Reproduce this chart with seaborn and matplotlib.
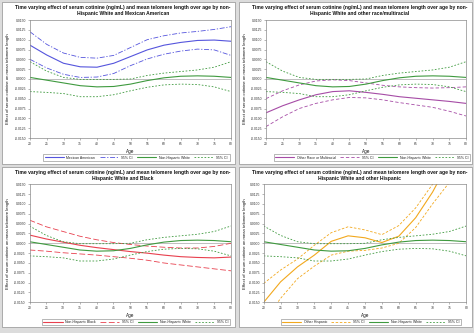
import numpy as np
import pandas as pd
import matplotlib
matplotlib.use("Agg")
import matplotlib.pyplot as plt
from matplotlib.patches import Rectangle
from matplotlib.ticker import FormatStrFormatter
import seaborn as sns

sns.set_theme(style="white")
plt.rcParams["font.family"] = ["Liberation Sans", "DejaVu Sans"]

ages = [20, 25, 30, 35, 40, 45, 50, 55, 60, 65, 70, 75, 80]

# Non-Hispanic White (reference, same in every panel)
nhw = [0.0004, -0.0003, -0.0010, -0.0017, -0.0020, -0.0019, -0.0013, -0.0004, 0.0003, 0.0007, 0.0008, 0.0007, 0.0004]
nhw_up = [0.0044, 0.0020, 0.0004, -0.0001, -0.0001, -0.0001, 0.0000, 0.0009, 0.0015, 0.0019, 0.0023, 0.0030, 0.0044]
nhw_lo = [-0.0032, -0.0034, -0.0037, -0.0045, -0.0045, -0.0040, -0.0030, -0.0021, -0.0015, -0.0013, -0.0014, -0.0020, -0.0032]

# Mexican American
ma = [0.0086, 0.0061, 0.0040, 0.0031, 0.0030, 0.0040, 0.0057, 0.0074, 0.0086, 0.0093, 0.0098, 0.0099, 0.0096]
ma_up = [0.0120, 0.0088, 0.0066, 0.0055, 0.0053, 0.0060, 0.0080, 0.0100, 0.0110, 0.0117, 0.0121, 0.0126, 0.0133]
ma_lo = [0.0050, 0.0028, 0.0012, 0.0004, 0.0005, 0.0014, 0.0034, 0.0051, 0.0063, 0.0071, 0.0076, 0.0074, 0.0060]

# Other Race or Multiracial
orm = [-0.0086, -0.0068, -0.0053, -0.0040, -0.0032, -0.0030, -0.0034, -0.0039, -0.0045, -0.0049, -0.0053, -0.0057, -0.0062]
orm_up = [-0.0050, -0.0030, -0.0015, -0.0005, -0.0002, -0.0004, -0.0010, -0.0016, -0.0020, -0.0022, -0.0023, -0.0022, -0.0020]
orm_lo = [-0.0121, -0.0096, -0.0075, -0.0062, -0.0053, -0.0047, -0.0048, -0.0053, -0.0060, -0.0066, -0.0072, -0.0082, -0.0094]

# Non-Hispanic Black
nhb = [0.0021, 0.0011, 0.0003, -0.0005, -0.0011, -0.0016, -0.0021, -0.0025, -0.0030, -0.0034, -0.0036, -0.0037, -0.0035]
nhb_up = [0.0059, 0.0042, 0.0030, 0.0018, 0.0009, 0.0002, -0.0003, -0.0007, -0.0010, -0.0012, -0.0012, -0.0008, 0.0000]
nhb_lo = [-0.0017, -0.0020, -0.0024, -0.0027, -0.0030, -0.0034, -0.0038, -0.0043, -0.0050, -0.0055, -0.0060, -0.0065, -0.0070]

# Other Hispanic
oh = [-0.0150, -0.0098, -0.0060, -0.0030, 0.0005, 0.0019, 0.0014, 0.0002, 0.0018, 0.0065, 0.0130, 0.0210, 0.0300]
oh_up = [-0.0102, -0.0068, -0.0040, -0.0005, 0.0027, 0.0042, 0.0034, 0.0022, 0.0045, 0.0090, 0.0150, 0.0230, 0.0320]
oh_lo = [-0.0200, -0.0140, -0.0090, -0.0058, -0.0030, -0.0020, -0.0018, -0.0012, 0.0000, 0.0040, 0.0100, 0.0155, 0.0240]

yticks = [-0.0150, -0.0125, -0.0100, -0.0075, -0.0050, -0.0025, 0.0, 0.0025, 0.0050, 0.0075, 0.0100, 0.0125, 0.0150]
xticks = ages

GREEN = "#3f9a3f"
GREEN_CI = "#3f9a3f"

panels = [
    dict(title="Time varying effect of serum cotinine (ng/mL) and mean telomere length over age by non-\nHispanic White and Mexican American",
         name="Mexican American", mid=ma, up=ma_up, lo=ma_lo, color="#5555dd", ls=(0, (6, 2, 1.5, 2)),
         box=(2, 2, 235, 164), ax=(30, 20, 231, 138), tx=123, ty=10.8, lx=8),
    dict(title="Time varying effect of serum cotinine (ng/mL) and mean telomere length over age by non-\nHispanic White and other race/multiracial",
         name="Other Race or Multiracial", mid=orm, up=orm_up, lo=orm_lo, color="#a64ca6", ls=(0, (4, 2.5)),
         box=(239, 2, 472, 164), ax=(266, 20, 466, 138), tx=360, ty=10.8, lx=245),
    dict(title="Time varying effect of serum cotinine (ng/mL) and mean telomere length over age by non-\nHispanic White and Black",
         name="Non-Hispanic Black", mid=nhb, up=nhb_up, lo=nhb_lo, color="#e8404e", ls=(0, (7, 3)),
         box=(2, 167, 235, 327), ax=(29.5, 184.3, 231, 302.3), tx=123, ty=175.7, lx=8),
    dict(title="Time varying effect of serum cotinine (ng/mL) and mean telomere length over age by non-\nHispanic White and other Hispanic",
         name="Other Hispanic", mid=oh, up=oh_up, lo=oh_lo, color="#f2a81d", ls=(0, (3, 2)),
         box=(239, 167, 472, 327), ax=(263.7, 184.3, 466.3, 302.3), tx=360, ty=175.7, lx=245),
]

W, H = 474, 333
fig = plt.figure(figsize=(W / 100, H / 100), dpi=100, facecolor="#dcdcdc")


def fig_rect(x0, y0, x1, y1):
    return [x0 / W, 1 - y1 / H, (x1 - x0) / W, (y1 - y0) / H]


for p in panels:
    bx = fig_rect(*p["box"])
    rect = Rectangle((bx[0], bx[1]), bx[2], bx[3], transform=fig.transFigure,
                     facecolor="white", edgecolor="#909090", lw=0.5, zorder=-5)
    fig.add_artist(rect)
    ax = fig.add_axes(fig_rect(*p["ax"]))
    ax.set_zorder(2)
    ax.set_facecolor("white")
    ax.axhline(0, color="#b4b4b4", lw=0.6, zorder=1)

    sns.lineplot(x=ages, y=p["mid"], ax=ax, color=p["color"], lw=0.8, label=p["name"])
    sns.lineplot(x=ages, y=p["up"], ax=ax, color=p["color"], lw=0.6, linestyle=p["ls"], label="95% CI")
    sns.lineplot(x=ages, y=p["lo"], ax=ax, color=p["color"], lw=0.6, linestyle=p["ls"])
    sns.lineplot(x=ages, y=nhw, ax=ax, color=GREEN, lw=0.8, label="Non-Hispanic White")
    sns.lineplot(x=ages, y=nhw_up, ax=ax, color=GREEN_CI, lw=0.6, linestyle=(0, (2, 2)), label="95% CI ")
    sns.lineplot(x=ages, y=nhw_lo, ax=ax, color=GREEN_CI, lw=0.6, linestyle=(0, (2, 2)))

    ax.set_xlim(20, 80)
    ax.set_ylim(-0.015, 0.015)
    ax.set_xticks(xticks)
    ax.set_yticks(yticks)
    ax.yaxis.set_major_formatter(FormatStrFormatter("%.4f"))
    ax.tick_params(axis="both", labelsize=2.4, length=1.5, width=0.4, color="#808080",
                   labelcolor="#333333", pad=1.2, bottom=True, left=True)
    for s in ax.spines.values():
        s.set_color("#8a8a8a")
        s.set_linewidth(0.5)
    ax.set_xlabel("Age", fontsize=3.3, labelpad=2.3, color="#111111")
    ax.set_ylabel("")
    fig.text(p["lx"] / W, 1 - ((p["ax"][1] + p["ax"][3]) / 2) / H,
             "Effect of serum cotinine on mean telomere length", rotation=90,
             fontsize=3.1, ha="center", va="center", color="#111111")
    fig.text(p["tx"] / W, 1 - p["ty"] / H, p["title"], fontsize=3.65, fontweight="bold",
             ha="center", va="center", linespacing=1.35, color="#111111")
    leg = ax.legend(loc="upper center", bbox_to_anchor=(0.53, -0.125), ncol=4, fontsize=2.5,
                    frameon=True, fancybox=False, edgecolor="#606060", handlelength=5.5,
                    borderpad=0.35, columnspacing=1.2, handletextpad=0.8)
    leg.get_frame().set_linewidth(0.4)

fig.savefig("out.png", dpi=100, facecolor=fig.get_facecolor())
